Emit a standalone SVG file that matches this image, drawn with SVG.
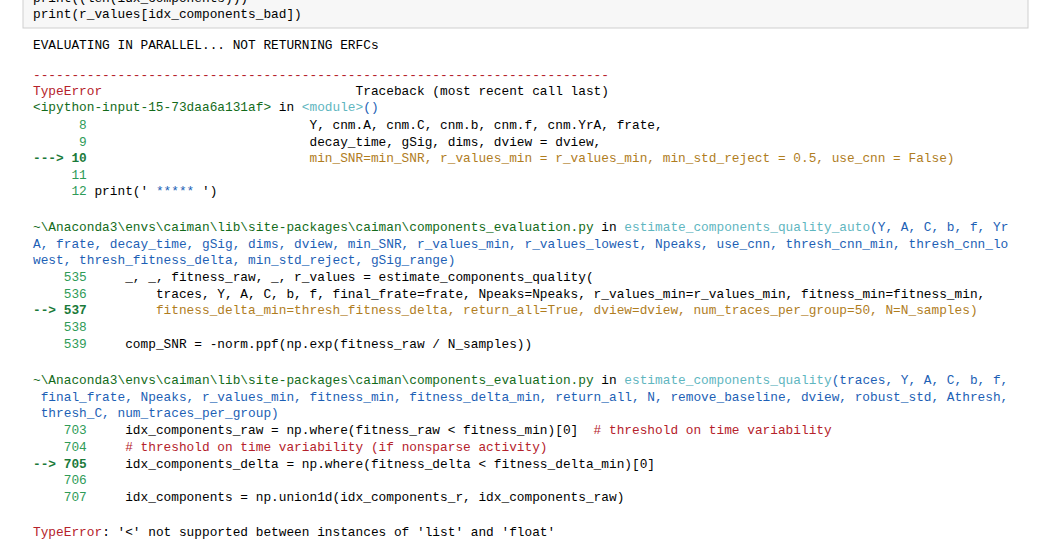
<svg xmlns="http://www.w3.org/2000/svg" width="1046" height="558" viewBox="0 0 1046 558">
<style>
text{font-family:"Liberation Mono","DejaVu Sans Mono",monospace;font-size:12.8px;fill:#000;white-space:pre}
.g{fill:#1a7a3a}.ln{fill:#2e9b57}.dg{fill:#136b1a}.r{fill:#b5222b}.t{fill:#5fb6bf}.b{fill:#1d5fb5}.o{fill:#b07d1e}.bo{font-weight:bold}
</style>
<rect width="1046" height="558" fill="#fff"/>
<rect x="23" y="-2" width="1005" height="30" fill="#f7f7f7" stroke="#cfcfcf"/>
<text x="33" y="2" xml:space="preserve">print((len(idx_components)))</text>
<text x="33" y="18" xml:space="preserve">print(r_values[idx_components_bad])</text>
<text x="33" y="49" xml:space="preserve">EVALUATING IN PARALLEL... NOT RETURNING ERFCs</text>
<text x="33" y="79" class="r" xml:space="preserve">---------------------------------------------------------------------------</text>
<text x="33" y="95" xml:space="preserve"><tspan class="r">TypeError</tspan>                                 Traceback (most recent call last)</text>
<text x="33" y="111" xml:space="preserve"><tspan class="dg">&lt;ipython-input-15-73daa6a131af&gt;</tspan> in <tspan class="t">&lt;module&gt;</tspan><tspan class="b">()</tspan></text>
<text x="33" y="129" xml:space="preserve"><tspan class="ln">      8</tspan>                             Y, cnm.A, cnm.C, cnm.b, cnm.f, cnm.YrA, frate,</text>
<text x="33" y="146" xml:space="preserve"><tspan class="ln">      9</tspan>                             decay_time, gSig, dims, dview = dview,</text>
<text x="33" y="162" xml:space="preserve"><tspan class="g bo">---&gt; 10</tspan><tspan class="o">                             min_SNR=min_SNR, r_values_min = r_values_min, min_std_reject = 0.5, use_cnn = False)</tspan></text>
<text x="33" y="179" xml:space="preserve"><tspan class="ln">     11</tspan></text>
<text x="33" y="195" xml:space="preserve"><tspan class="ln">     12</tspan> print(' <tspan class="b">*****</tspan> ')</text>

<text x="33" y="231" xml:space="preserve"><tspan class="dg">~\Anaconda3\envs\caiman\lib\site-packages\caiman\components_evaluation.py</tspan> in <tspan class="t">estimate_components_quality_auto</tspan><tspan class="b">(Y, A, C, b, f, Yr</tspan></text>
<text x="33" y="248" class="b" xml:space="preserve">A, frate, decay_time, gSig, dims, dview, min_SNR, r_values_min, r_values_lowest, Npeaks, use_cnn, thresh_cnn_min, thresh_cnn_lo</text>
<text x="33" y="264" class="b" xml:space="preserve">west, thresh_fitness_delta, min_std_reject, gSig_range)</text>
<text x="33" y="281" xml:space="preserve"><tspan class="ln">    535</tspan>     _, _, fitness_raw, _, r_values = estimate_components_quality(</text>
<text x="33" y="298" xml:space="preserve"><tspan class="ln">    536</tspan>         traces, Y, A, C, b, f, final_frate=frate, Npeaks=Npeaks, r_values_min=r_values_min, fitness_min=fitness_min,</text>
<text x="33" y="314" xml:space="preserve"><tspan class="g bo">--&gt; 537</tspan><tspan class="o">         fitness_delta_min=thresh_fitness_delta, return_all=True, dview=dview, num_traces_per_group=50, N=N_samples)</tspan></text>
<text x="33" y="331" xml:space="preserve"><tspan class="ln">    538</tspan></text>
<text x="33" y="348" xml:space="preserve"><tspan class="ln">    539</tspan>     comp_SNR = -norm.ppf(np.exp(fitness_raw / N_samples))</text>

<text x="33" y="384" xml:space="preserve"><tspan class="dg">~\Anaconda3\envs\caiman\lib\site-packages\caiman\components_evaluation.py</tspan> in <tspan class="t">estimate_components_quality</tspan><tspan class="b">(traces, Y, A, C, b, f,</tspan></text>
<text x="33" y="401" class="b" xml:space="preserve"> final_frate, Npeaks, r_values_min, fitness_min, fitness_delta_min, return_all, N, remove_baseline, dview, robust_std, Athresh,</text>
<text x="33" y="417" class="b" xml:space="preserve"> thresh_C, num_traces_per_group)</text>
<text x="33" y="434" xml:space="preserve"><tspan class="ln">    703</tspan>     idx_components_raw = np.where(fitness_raw &lt; fitness_min)[0]  <tspan class="r"># threshold on time variability</tspan></text>
<text x="33" y="451" xml:space="preserve"><tspan class="ln">    704</tspan>     <tspan class="r"># threshold on time variability (if nonsparse activity)</tspan></text>
<text x="33" y="468" xml:space="preserve"><tspan class="g bo">--&gt; 705</tspan>     idx_components_delta = np.where(fitness_delta &lt; fitness_delta_min)[0]</text>
<text x="33" y="484" xml:space="preserve"><tspan class="ln">    706</tspan></text>
<text x="33" y="501" xml:space="preserve"><tspan class="ln">    707</tspan>     idx_components = np.union1d(idx_components_r, idx_components_raw)</text>
<text x="33" y="536" xml:space="preserve"><tspan class="r">TypeError</tspan>: '&lt;' not supported between instances of 'list' and 'float'</text>
</svg>
